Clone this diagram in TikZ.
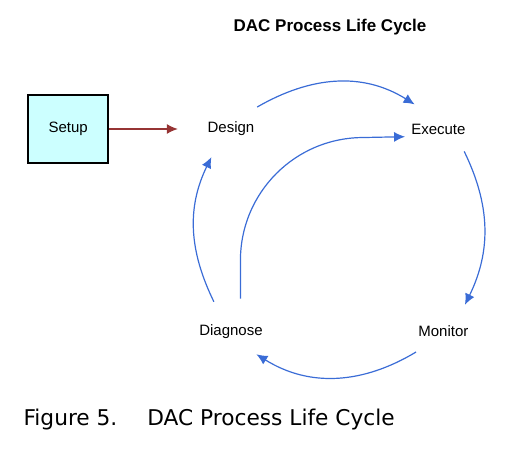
\documentclass[tikz,border=0pt]{standalone}
\usepackage{fontspec}
\setmainfont{Liberation Sans}
\newfontfamily\capfont{DejaVu Sans}
\usepackage{tikz}
\usetikzlibrary{%
  arrows.meta, positioning, calc, shapes.geometric
}
\usepackage{xcolor}
\definecolor{cyclblue}{RGB}{58,108,214}
\definecolor{feedred}{RGB}{150,52,52}
\definecolor{boxcyan}{RGB}{204,255,255}
\tikzstyle{lnode} = [%
  circle,
  draw=none,
  minimum size=68pt,
  align=center,
  text centered,
  inner sep=0pt,
  font=\fontsize{15}{17}\selectfont
]

\begin{document}
\begin{tikzpicture}[%
  x=1pt, y=1pt,
  >={Latex[length=11pt,width=10pt]},
  every node/.style={%
    text=black,
    text centered,
    align=center
  },
  cycle/.style={draw=cyclblue,line width=1.2pt,->},
  setupbox/.style={draw=black,line width=1.4pt,fill=boxcyan,
    minimum width=80pt,minimum height=68pt,inner sep=0pt,
    font=\fontsize{15}{17}\selectfont}
]
  \useasboundingbox (0,0) rectangle (513,453);

  % Nodes
  \node[font=\fontsize{17}{19}\selectfont\bfseries] (title) at (330,426) {DAC Process Life Cycle};
  \node[lnode] (design) at (231,324) {Design};
  \node[lnode,right=139pt of design] (execute) {Execute};
  \node[lnode,below=134pt of design] (diagnose) {Diagnose};
  \node[lnode,right=144pt of diagnose] (monitor) {Monitor};
  \node[setupbox,left=88pt of design] (setup) {Setup};
  \node[anchor=west,font=\capfont\fontsize{21.7}{24}\selectfont] (caption) at (20,33)
    {Figure 5.\hspace{30pt}DAC Process Life Cycle};

  % Cycle edges
  \draw[cycle] (design.40) to[out=30,in=148] (execute.134);
  \draw[cycle] (execute.319) to[out=-64,in=64] (monitor.51);
  \draw[cycle] (monitor.217) to[out=-149,in=-32] (diagnose.318);
  \draw[cycle] (diagnose.120) to[out=116,in=-116] (design.235);

  % Feedback edges
  \draw[cycle] (diagnose.74) -- ++(0,38) to[out=90,in=180] ++(123,123) -- (execute.193);
  \draw[draw=feedred,line width=1.3pt,->,shorten >=19pt] (setup) -- (design);

\end{tikzpicture}
\end{document}
